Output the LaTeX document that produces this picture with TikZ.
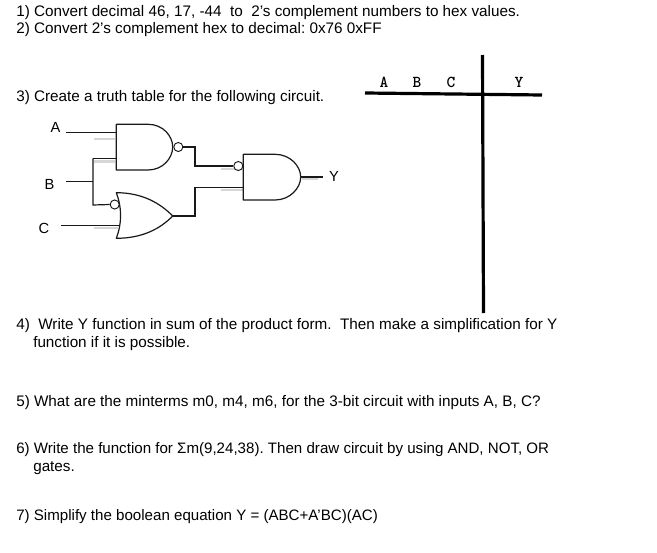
\documentclass[tikz,border=0pt]{standalone}
\usepackage{fontspec}
\setmainfont{Liberation Sans}
\definecolor{smudge}{gray}{0.84}
\tikzset{
  x=0.75pt,y=-0.75pt,
  qtext/.style={anchor=base west,inner sep=0pt,font=\frenchspacing\fontsize{11.45pt}{13pt}\selectfont},
  qtight/.style={qtext,font=\frenchspacing\fontsize{11.33pt}{13pt}\selectfont},
  pinlabel/.style={inner sep=0pt,font=\fontsize{11pt}{12pt}\selectfont},
  headlabel/.style={inner sep=0pt,font=\ttfamily\bfseries\fontsize{12.5pt}{12pt}\selectfont},
  gate/.style={line width=0.9pt,black!90,line join=round},
  wire/.style={line width=0.9pt,black!90},
  bubble/.style={circle,draw=black!90,fill=white,line width=0.7pt,minimum size=6.8pt,inner sep=0pt},
  shade line/.style={line width=2pt,smudge},
  rule/.style={line width=2.4pt,black}
}
\begin{document}
\begin{tikzpicture}
\useasboundingbox (0,0) rectangle (657,553);
% questions
\node[qtext] (q1) at (16,16.5) {1) Convert decimal 46, 17, -44\ \ to\ \ 2’s complement numbers to hex values.};
\node[qtext] (q2) at (16,33.5) {2) Convert 2’s complement hex to decimal: 0x76 0xFF};
\node[qtext] (q3) at (16,101) {3) Create a truth table for the following circuit.};
\node[qtext] (q4a) at (16,329.5) {4)\ \ Write Y function in sum of the product form.\ \ Then make a simplification for Y};
\node[qtext] (q4b) at (33,347) {function if it is possible.};
\node[qtext] (q5) at (16,406) {5) What are the minterms m0, m4, m6, for the 3-bit circuit with inputs A, B, C?};
\node[qtight] (q6a) at (16,453) {6) Write the function for Σm(9,24,38). Then draw circuit by using AND, NOT, OR};
\node[qtext] (q6b) at (33,471) {gates.};
\node[qtight] (q7) at (16,520.5) {7) Simplify the boolean equation Y = (ABC+A’BC)(AC)};
% truth table
\coordinate (hl) at (365,93);
\coordinate (hr) at (542,95);
\coordinate (vt) at (482.5,55);
\coordinate (vb) at (483.5,313);
\draw[rule] (hl) -- (hr);
\draw[rule] (vt) -- (vb);
\node[headlabel] (ha) at (384,82) {A};
\node[headlabel] (hb) at (417,82) {B};
\node[headlabel] (hc) at (451,82) {C};
\node[headlabel] (hy) at (519,82) {Y};
% smudges
\draw[shade line] (94,139) -- (115,139);
\draw[shade line] (94,161.5) -- (115,161.5);
\draw[shade line] (94,228) -- (118,228);
\draw[shade line] (221,169) -- (240,169);
\draw[shade line] (221,190) -- (243,190);
\draw[shade line] (302,178.5) -- (318,178.5);
% circuit labels
\node[pinlabel] (la) at (55.5,127) {A};
\node[pinlabel] (lb) at (49.5,184) {B};
\node[pinlabel] (lc) at (44,228) {C};
\node[pinlabel] (ly) at (334,176.5) {Y};
% pin points
\coordinate (ina) at (66,132.7);
\coordinate (inb) at (66,181.7);
\coordinate (inc) at (61,225.7);
\coordinate (bj) at (93,181.7);
\coordinate (outy) at (323,177);
% gates
\draw[gate] (116.3,124.3) coordinate (n1tl) -- (148,124.3) .. controls (163,124.3) and (172.7,136) .. (172.7,147) coordinate (n1tip)
  .. controls (172.7,158) and (163,170) .. (148,170) -- (116.3,170) coordinate (n1bl) -- cycle;
\draw[gate] (243.3,154.3) coordinate (n2tl) -- (275,154.3) .. controls (290,154.3) and (300.7,166) .. (300.7,177) coordinate (n2tip)
  .. controls (300.7,188) and (290,200) .. (275,200) -- (243.3,200) coordinate (n2bl) -- cycle;
\draw[gate] (116.3,192.7) coordinate (ortl) .. controls (142,192.7) and (160,203) .. (172.7,216) coordinate (ortip)
  .. controls (160,229) and (142,238.3) .. (116.3,238.3) coordinate (orbl)
  .. controls (122,224) and (122,207) .. (116.3,192.7) -- cycle;
\node[bubble] (b1) at (178.3,147) {};
\node[bubble] (b2) at (238.3,166) {};
\node[bubble] (b3) at (114.7,204.5) {};
% wires
\coordinate (n1a) at (116.3,132.7);
\coordinate (n1b) at (116.3,158.3);
\coordinate (n2b) at (243.3,187.7);
\coordinate (orc) at (119.5,225.7);
\coordinate (bt) at (93,158.3);
\coordinate (bbot) at (93,205);
\draw[wire] (ina) -- (n1a);
\draw[wire] (inb) -- (bj);
\draw[wire] (bt) -- (n1b);
\draw[wire] (bt) -- (bbot) -- (b3.west);
\draw[wire] (inc) -- (orc);
\draw[wire] (b1.east) -- (195,147) -- (195,166) -- (b2.west);
\draw[wire] (ortip) -- (195,216) -- (195,187.7) -- (n2b);
\draw[wire] (n2tip) -- (outy);
\end{tikzpicture}
\end{document}
